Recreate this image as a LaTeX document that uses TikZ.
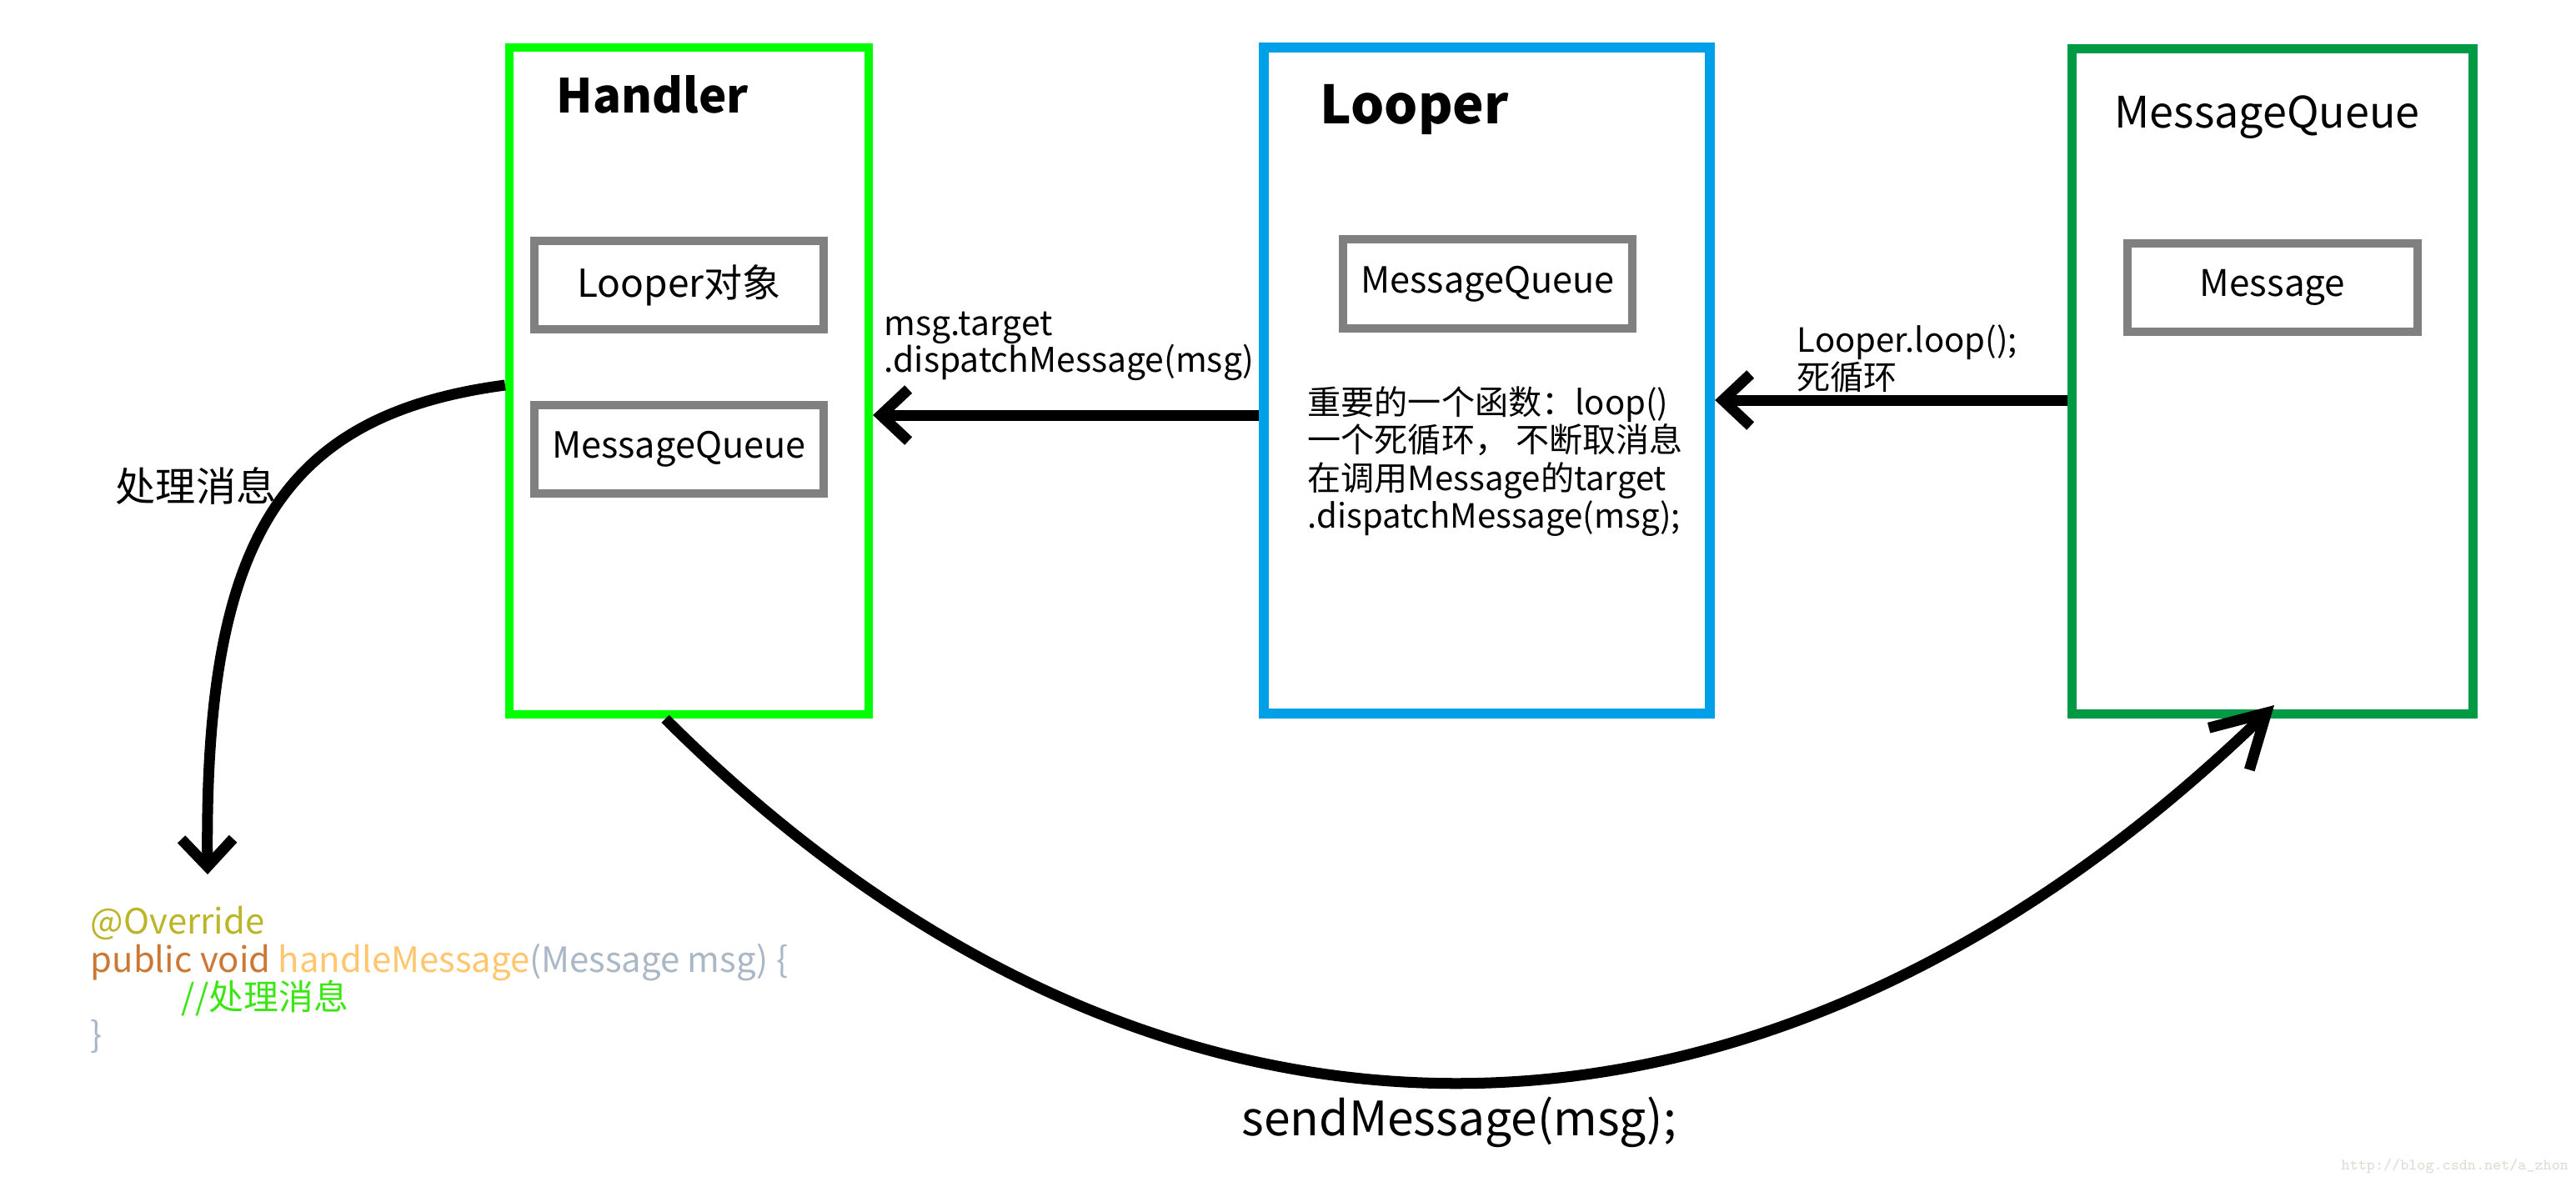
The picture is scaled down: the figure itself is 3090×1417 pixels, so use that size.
\documentclass[tikz,border=0pt]{standalone}
\usepackage{fontspec}
\setmainfont{Noto Sans CJK SC}
\usetikzlibrary{arrows.meta}
\definecolor{handlergreen}{HTML}{00FF00}
\definecolor{looperblue}{HTML}{00A0E9}
\definecolor{queuegreen}{HTML}{009944}
\definecolor{annot}{HTML}{BBB529}
\definecolor{keyword}{HTML}{CC7832}
\definecolor{method}{HTML}{FFC66D}
\definecolor{plain}{HTML}{A9B7C6}
\definecolor{comment}{HTML}{3CE614}
\definecolor{wmgray}{HTML}{DCDCD4}
\newcommand\sz[2]{\fontsize{#1}{#2}\selectfont\lineskiplimit=-100pt\relax}
\tikzset{
  innerbox/.style={draw=gray, line width=2.85pt, minimum width=3.47cm, minimum height=1.06cm, inner sep=0pt, font=\sz{12.3}{15}},
  txt/.style={anchor=base west, inner sep=0pt},
  arr/.style={line width=3.7pt, -{Straight Barb[length=3.3mm,width=6.2mm]}}
}
\begin{document}
\begin{tikzpicture}[x=0.01cm,y=-0.01cm]
\useasboundingbox (0,0) rectangle (3090,1417);
\node[draw=handlergreen, line width=2.85pt, minimum width=4.31cm, minimum height=8cm] (handler) at (826.5,457) {};
\node[draw=looperblue, line width=3.41pt, minimum width=5.35cm, minimum height=7.99cm] (looper) at (1783.5,456.5) {};
\node[draw=queuegreen, line width=3.13pt, minimum width=4.8cm, minimum height=7.97cm] (mq) at (2726,457.5) {};
\node[txt, font=\sz{16}{20}\bfseries] (htitle) at (667,135) {Handler};
\node[txt, font=\sz{18}{22}\bfseries] (ltitle) at (1583,148) {Looper};
\node[txt, font=\sz{14.8}{18}] (qtitle) at (2536,153) {MessageQueue};
\node[innerbox, font=\sz{13.1}{16}] (lobj) at (814.5,342) {Looper对象};
\node[innerbox] (hqueue) at (814.5,539) {MessageQueue};
\node[innerbox] (lqueue) at (1784.5,340.5) {MessageQueue};
\node[innerbox, font=\sz{12.5}{15}] (msg) at (2726,345) {Message};
\node[txt, align=left, font=\sz{11.6}{12.4}] (dispatch) at (1060,446) {msg.target\\.dispatchMessage(msg)};
\node[txt, align=left, font=\sz{11.4}{12.8}] (loopcall) at (2155,467) {Looper.loop();\\死循环};
\node[txt, align=left, font=\sz{11.4}{12.8}] (loopnote) at (1568,633) {重要的一个函数：loop()\\一个死循环， 不断取消息\\在调用Message的target\\.dispatchMessage(msg);};
\node[txt, font=\sz{13.7}{16}] (handlelabel) at (138,601) {处理消息};
\node[txt, font=\sz{16.2}{20}] (send) at (1489,1362) {sendMessage(msg);};
\node[txt, align=left, font=\sz{11.9}{12.8}] (code) at (108,1256) {\color{annot}@Override\\\color{keyword}public void \color{method}handleMessage\color{plain}(Message msg) \{\\\hspace*{1.09cm}\color{comment}//处理消息\\\color{plain}\}};
\node[txt, font=\ttfamily\sz{5.4}{6}, text=wmgray] (blog) at (2808,1403) {http://blog.csdn.net/a\_zhon};
\coordinate (codetip) at (249,1049);
\coordinate (sendtip) at (2728,846);
\draw[arr] (looper.west |- 0,498) -- (handler.east |- 0,498);
\draw[arr] (mq.west |- 0,480) -- (looper.east |- 0,480);
\draw[arr] (handler.west |- 0,462) .. controls (335,498) and (245,650) .. (codetip);
\draw[arr, -{Straight Barb[length=6.2mm,width=7mm]}] (handler.south -| 798,0) .. controls (1383,1446) and (2108,1446) .. (sendtip);
\end{tikzpicture}
\end{document}
